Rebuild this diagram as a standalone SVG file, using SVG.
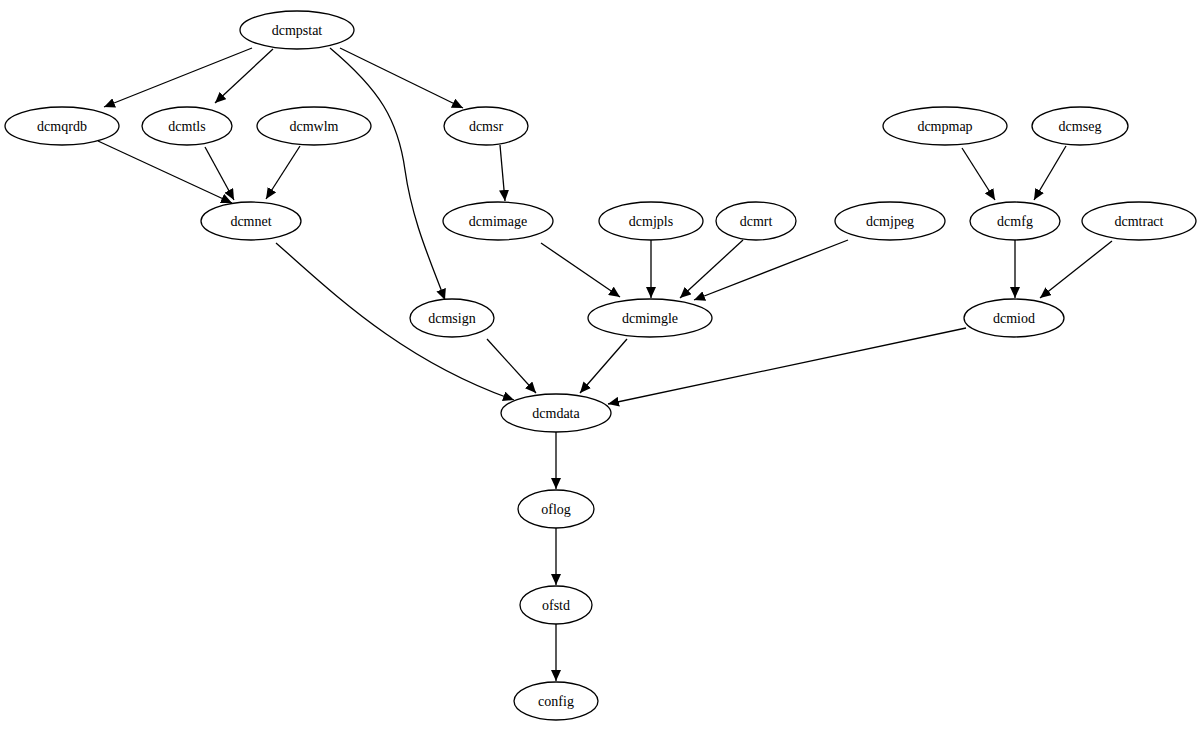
<svg xmlns="http://www.w3.org/2000/svg" width="1200" height="731" viewBox="0 0 1200 731">
<style>
.n ellipse{fill:#fff;stroke:#000;stroke-width:1.3}
.n text{font-family:"Liberation Serif",serif;font-size:14px;text-anchor:middle;dominant-baseline:central;fill:#000}
#edges path{fill:none;stroke:#000;stroke-width:1.3;marker-end:url(#a)}
</style>
<defs><marker id="a" markerUnits="userSpaceOnUse" markerWidth="12" markerHeight="10" refX="11" refY="5" orient="auto"><path d="M0,0L11,5L0,10z" fill="#000"/></marker></defs>
<rect width="1200" height="731" fill="#fff"/>
<g id="edges">
<path d="M252,48L104,107"/>
<path d="M273,49L215,103"/>
<path d="M340,48L463,108"/>
<path d="M330,48C380,90 398,120 405,170C412,220 430,260 445,300"/>
<path d="M98,141L232,203"/>
<path d="M205,147L234,200"/>
<path d="M300,146L266,199"/>
<path d="M500,145L505,201"/>
<path d="M962,148L995,200"/>
<path d="M1066,146L1034,200"/>
<path d="M276,243C330,290 400,360 514,400"/>
<path d="M541,243L620,297"/>
<path d="M651,240L651,298"/>
<path d="M743,240L680,298"/>
<path d="M848,240L694,300"/>
<path d="M1015,240L1015,298"/>
<path d="M1112,241L1040,298"/>
<path d="M487,339L536,393"/>
<path d="M627,339L580,393"/>
<path d="M966,328L608,404"/>
<path d="M556,432L556,489"/>
<path d="M556,528L556,585"/>
<path d="M556,624L556,681"/>
</g>
<g id="dcmpstat" class="n"><ellipse cx="297" cy="30" rx="57" ry="19"/><text x="297" y="30">dcmpstat</text></g>
<g id="dcmqrdb" class="n"><ellipse cx="62" cy="126" rx="57" ry="19"/><text x="62" y="126">dcmqrdb</text></g>
<g id="dcmtls" class="n"><ellipse cx="187" cy="126" rx="45" ry="19"/><text x="187" y="126">dcmtls</text></g>
<g id="dcmwlm" class="n"><ellipse cx="314" cy="126" rx="57" ry="19"/><text x="314" y="126">dcmwlm</text></g>
<g id="dcmsr" class="n"><ellipse cx="486" cy="126" rx="42" ry="19"/><text x="486" y="126">dcmsr</text></g>
<g id="dcmpmap" class="n"><ellipse cx="945" cy="126" rx="62" ry="19"/><text x="945" y="126">dcmpmap</text></g>
<g id="dcmseg" class="n"><ellipse cx="1080" cy="126" rx="48" ry="19"/><text x="1080" y="126">dcmseg</text></g>
<g id="dcmnet" class="n"><ellipse cx="251" cy="221" rx="50" ry="19"/><text x="251" y="221">dcmnet</text></g>
<g id="dcmimage" class="n"><ellipse cx="498" cy="221" rx="55" ry="19"/><text x="498" y="221">dcmimage</text></g>
<g id="dcmjpls" class="n"><ellipse cx="651" cy="221" rx="52" ry="19"/><text x="651" y="221">dcmjpls</text></g>
<g id="dcmrt" class="n"><ellipse cx="756" cy="221" rx="40" ry="19"/><text x="756" y="221">dcmrt</text></g>
<g id="dcmjpeg" class="n"><ellipse cx="890" cy="221" rx="55" ry="19"/><text x="890" y="221">dcmjpeg</text></g>
<g id="dcmfg" class="n"><ellipse cx="1015" cy="221" rx="45" ry="19"/><text x="1015" y="221">dcmfg</text></g>
<g id="dcmtract" class="n"><ellipse cx="1139" cy="221" rx="57" ry="19"/><text x="1139" y="221">dcmtract</text></g>
<g id="dcmsign" class="n"><ellipse cx="452" cy="318" rx="42" ry="19"/><text x="452" y="318">dcmsign</text></g>
<g id="dcmimgle" class="n"><ellipse cx="650" cy="318" rx="62" ry="19"/><text x="650" y="318">dcmimgle</text></g>
<g id="dcmiod" class="n"><ellipse cx="1014" cy="318" rx="50" ry="19"/><text x="1014" y="318">dcmiod</text></g>
<g id="dcmdata" class="n"><ellipse cx="556" cy="413" rx="55" ry="19"/><text x="556" y="413">dcmdata</text></g>
<g id="oflog" class="n"><ellipse cx="556" cy="509" rx="38" ry="19"/><text x="556" y="509">oflog</text></g>
<g id="ofstd" class="n"><ellipse cx="556" cy="605" rx="36" ry="19"/><text x="556" y="605">ofstd</text></g>
<g id="config" class="n"><ellipse cx="556" cy="701" rx="42" ry="19"/><text x="556" y="701">config</text></g>
</svg>
